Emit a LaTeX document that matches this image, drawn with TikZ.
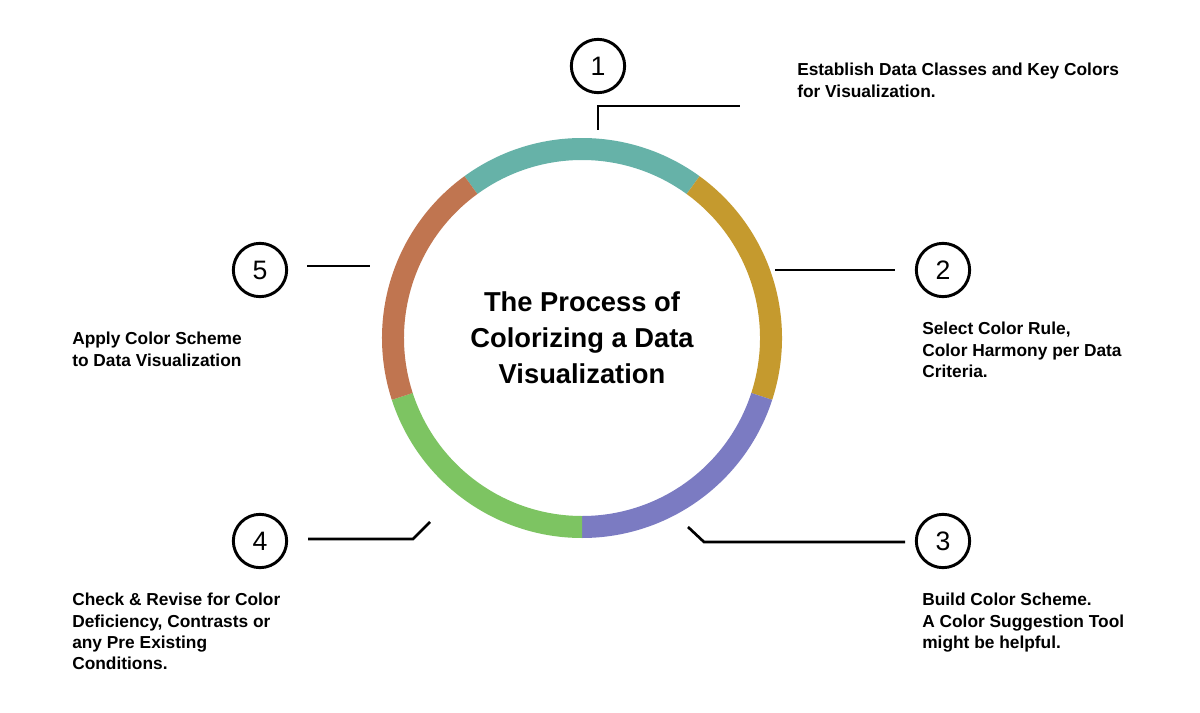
\documentclass[tikz,border=0pt]{standalone}
\usepackage{fontspec}
\setmainfont{Liberation Sans}
\begin{document}
\begin{tikzpicture}[x=0.75pt,y=-0.75pt,
  num/.style={circle,draw,line width=2.2pt,minimum size=40pt,inner sep=0pt,font=\fontsize{20}{24}\selectfont},
  lbl/.style={align=left,anchor=north west,inner sep=0pt,font=\bfseries\fontsize{13}{16}\selectfont},
  conn/.style={line width=2pt}]
\useasboundingbox[fill=white] (0,0) rectangle (1200,713);
\def\cx{582}\def\cy{338}
\foreach \a/\b/\c in {54/126/66B2A8,-18/54/C59A2E,-90/-18/7B7BC2,198/270/7DC462,126/198/C07550}{
  \definecolor{seg}{HTML}{\c}
  \fill[seg] (\cx,\cy) ++(\a:200 and -200) arc[start angle=\a,end angle=\b,x radius=200,y radius=-200]
    -- ++(\b:-22 and 22) arc[start angle=\b,end angle=\a,x radius=178,y radius=-178] -- cycle;
}
\node[align=center,font=\bfseries\fontsize{20.5}{27}\selectfont] (title) at (582,338) {The Process of\\Colorizing a Data\\Visualization};
\node[num] (n1) at (598,66) {1};
\node[num] (n2) at (943,270) {2};
\node[num] (n3) at (943,541) {3};
\node[num] (n4) at (260,541) {4};
\node[num] (n5) at (260,270) {5};
\coordinate (a1) at (598,130); \coordinate (b1) at (598,106); \coordinate (c1) at (740,106);
\draw[conn] (a1) -- (b1) -- (c1);
\coordinate (a2) at (775,270); \coordinate (b2) at (895,270);
\draw[conn] (a2) -- (b2);
\coordinate (a3) at (688,527); \coordinate (b3) at (704,542); \coordinate (c3) at (905,542);
\draw[conn] (a3) -- (b3) -- (c3);
\coordinate (a4) at (308,539); \coordinate (b4) at (413,539); \coordinate (c4) at (430,522);
\draw[conn] (a4) -- (b4) -- (c4);
\coordinate (a5) at (307,266); \coordinate (b5) at (370,266);
\draw[conn] (a5) -- (b5);
\node[lbl] (t1) at (797,63) {Establish Data Classes and Key Colors\\for Visualization.};
\node[lbl] (t2) at (922,322) {Select Color Rule,\\Color Harmony per Data\\Criteria.};
\node[lbl] (t3) at (922,593) {Build Color Scheme.\\A Color Suggestion Tool\\might be helpful.};
\node[lbl] (t4) at (72,593) {Check \& Revise for Color\\Deficiency, Contrasts or\\any Pre Existing\\Conditions.};
\node[lbl] (t5) at (72,332) {Apply Color Scheme\\to Data Visualization};
\end{tikzpicture}
\end{document}
